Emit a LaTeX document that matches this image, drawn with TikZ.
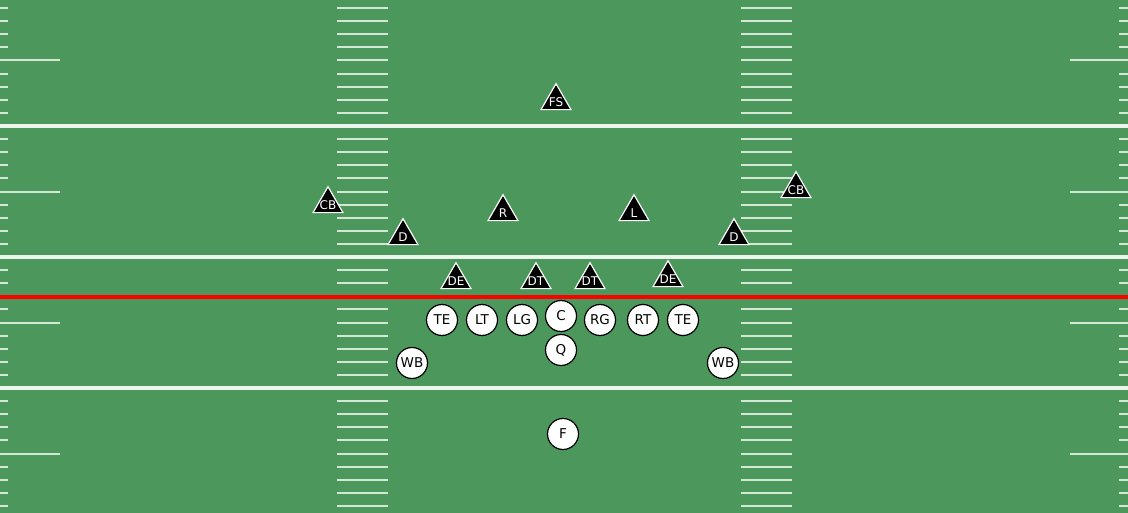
\documentclass[tikz,border=0pt]{standalone}
\usepackage{fontspec}
\setmainfont{DejaVu Sans}
\usetikzlibrary{shapes.geometric}
\definecolor{turf}{RGB}{76,152,92}
\definecolor{lsred}{RGB}{255,0,0}
\definecolor{chalk}{RGB}{235,245,235}
\newcommand{\deftxt}[1]{\fontsize{12}{12}\selectfont #1}
\begin{document}
\begin{tikzpicture}[x=1pt,y=-1pt,
  off/.style={circle,draw=black,fill=white,line width=1.2pt,minimum size=31pt,inner sep=0pt,font=\fontsize{13.5}{13.5}\selectfont},
  def/.style={regular polygon,regular polygon sides=3,draw=white,fill=black,line width=1.2pt,minimum size=34.6pt,inner sep=0pt,
     label={[text=white,inner sep=0pt,yshift=-1pt]center:\deftxt{#1}}},
  yard/.style={chalk,line width=3.5pt},
  tick/.style={chalk,opacity=0.85,line width=2pt}]
\fill[turf] (0,0) rectangle (1128,513);
\useasboundingbox (0,0) rectangle (1128,513);
% yard lines
\foreach \yy in {126,257,388} \draw[yard] (0,\yy) -- (1128,\yy);
% ticks
\foreach \k in {-9,...,-1,1,2,...,9,11,12,...,19,21,22,...,29} {
  \pgfmathsetmacro\yy{round(126+13.1*\k)}
  \draw[tick] (0,\yy) -- (8,\yy);
  \draw[tick] (337,\yy) -- (388,\yy);
  \draw[tick] (741,\yy) -- (792,\yy);
  \draw[tick] (1119,\yy) -- (1128,\yy);
}
\foreach \k in {-5,5,15,25} {
  \pgfmathsetmacro\yy{round(126+13.1*\k)}
  \draw[tick] (8,\yy) -- (60,\yy);
  \draw[tick] (1070,\yy) -- (1119,\yy);
}
% line of scrimmage
\coordinate (losL) at (0,297);
\coordinate (losR) at (1128,297);
\draw[lsred,line width=4pt] (losL) -- (losR);
% defense
\node[def=FS] (fs) at (556,101) {};
\node[def=CB] (cbl) at (328,204) {};
\node[def=CB] (cbr) at (796,189) {};
\node[def=R] (r) at (503,212) {};
\node[def=L] (l) at (634,212) {};
\node[def=D] (dl) at (403,236) {};
\node[def=D] (dr) at (734,236) {};
\node[def=DE] (del) at (456,280) {};
\node[def=DT] (dtl) at (536,280) {};
\node[def=DT] (dtr) at (590,280) {};
\node[def=DE] (der) at (668,278) {};
% offense
\node[off] (tel) at (442,320) {TE};
\node[off] (lt) at (482,320) {LT};
\node[off] (lg) at (522,320) {LG};
\node[off] (c) at (561,316) {C};
\node[off] (rg) at (600,320) {RG};
\node[off] (rt) at (643,320) {RT};
\node[off] (ter) at (683,320) {TE};
\node[off] (q) at (561,350) {Q};
\node[off] (wbl) at (412,363) {WB};
\node[off] (wbr) at (723,363) {WB};
\node[off] (f) at (563,434) {F};
\end{tikzpicture}
\end{document}
